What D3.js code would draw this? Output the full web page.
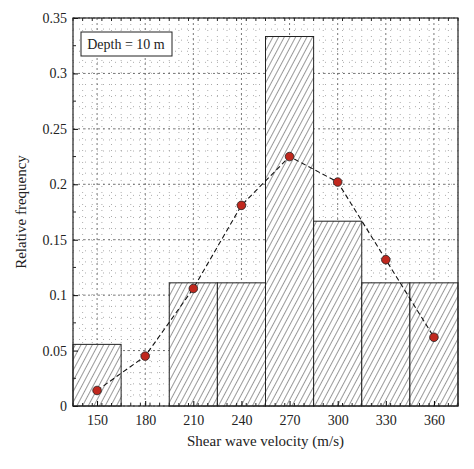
<!DOCTYPE html>
<meta charset="utf-8">
<style>
body { margin: 0; background: #fff; }
text { font-family: "Liberation Serif", serif; fill: #222; }
</style>
<body>
<script src="https://d3js.org/d3.v7.min.js"></script>
<script>
var velocities = [150, 180, 210, 240, 270, 300, 330, 360];
var barFreq = [0.0556, 0, 0.1111, 0.1111, 0.3333, 0.1667, 0.1111, 0.1111];
var curveFreq = [0.014, 0.045, 0.106, 0.181, 0.225, 0.202, 0.132, 0.062];
var yTicks = [0, 0.05, 0.1, 0.15, 0.2, 0.25, 0.3, 0.35];

var margin = {top: 18, right: 16, bottom: 63, left: 73},
    width = 474 - margin.left - margin.right,
    height = 469 - margin.top - margin.bottom;

var svg = d3.select("body").append("svg").attr("width", 474).attr("height", 469);

var defs = svg.append("defs");
var pat = defs.append("pattern").attr("id", "hatch").attr("patternUnits", "userSpaceOnUse")
    .attr("width", 5).attr("height", 5).attr("patternTransform", "rotate(28)");
pat.append("rect").attr("width", 5).attr("height", 5).attr("fill", "#fff");
pat.append("line").attr("x1", 0).attr("y1", 0).attr("x2", 0).attr("y2", 5)
    .attr("stroke", "#333").attr("stroke-width", 1);

var g = svg.append("g").attr("transform", "translate(" + margin.left + "," + margin.top + ")");

var x = d3.scaleLinear().domain([135, 375]).range([0, width]);
var y = d3.scaleLinear().domain([0, 0.35]).range([height, 0]);

// minor grid
var xMinor = d3.range(135, 375.1, 6), yMinor = d3.range(0, 0.3501, 0.01);
g.selectAll(".vx").data(xMinor).enter().append("line")
    .attr("x1", d => x(d)).attr("x2", d => x(d)).attr("y1", 0).attr("y2", height)
    .attr("stroke", "#888").attr("stroke-width", 0.7).attr("stroke-dasharray", "1,5");
g.selectAll(".hy").data(yMinor).enter().append("line")
    .attr("y1", d => y(d)).attr("y2", d => y(d)).attr("x1", 0).attr("x2", width)
    .attr("stroke", "#888").attr("stroke-width", 0.7).attr("stroke-dasharray", "1,5");
// major grid
g.selectAll(".mx").data(velocities).enter().append("line")
    .attr("x1", d => x(d)).attr("x2", d => x(d)).attr("y1", 0).attr("y2", height)
    .attr("stroke", "#555").attr("stroke-width", 0.8).attr("stroke-dasharray", "2,3");
g.selectAll(".my").data(yTicks).enter().append("line")
    .attr("y1", d => y(d)).attr("y2", d => y(d)).attr("x1", 0).attr("x2", width)
    .attr("stroke", "#555").attr("stroke-width", 0.8).attr("stroke-dasharray", "2,3");

// bars
g.selectAll(".bar").data(velocities.filter((d, i) => barFreq[i] > 0)).enter().append("rect")
    .attr("x", d => x(d - 15)).attr("width", x(165) - x(135))
    .attr("y", d => y(barFreq[velocities.indexOf(d)]))
    .attr("height", d => height - y(barFreq[velocities.indexOf(d)]))
    .attr("fill", "url(#hatch)").attr("stroke", "#222").attr("stroke-width", 1);

// curve
var line = d3.line().x((d, i) => x(velocities[i])).y(d => y(d));
g.append("path").datum(curveFreq).attr("d", line).attr("fill", "none")
    .attr("stroke", "#111").attr("stroke-width", 1.1).attr("stroke-dasharray", "5,3");
g.selectAll(".pt").data(curveFreq).enter().append("circle")
    .attr("cx", (d, i) => x(velocities[i])).attr("cy", d => y(d)).attr("r", 4.3)
    .attr("fill", "#c0281e").attr("stroke", "#222").attr("stroke-width", 0.8);

// axes
g.append("g").attr("transform", "translate(0," + height + ")")
    .call(d3.axisBottom(x).tickValues(velocities).tickSize(-5).tickPadding(9))
    .call(a => a.select(".domain").remove())
    .selectAll("text").style("font-size", "14px");
g.append("g").call(d3.axisLeft(y).tickValues(yTicks).tickSize(-5).tickPadding(6)
        .tickFormat(d => d === 0 ? "0" : d3.format("")(+d.toFixed(2))))
    .call(a => a.select(".domain").remove())
    .selectAll("text").style("font-size", "14px");
// minor ticks
g.selectAll(".tb").data(xMinor).enter().append("line")
    .attr("x1", d => x(d)).attr("x2", d => x(d)).attr("y1", 0).attr("y2", 3).attr("stroke", "#222");
g.selectAll(".tbb").data(xMinor).enter().append("line")
    .attr("x1", d => x(d)).attr("x2", d => x(d)).attr("y1", height).attr("y2", height - 3).attr("stroke", "#222");
g.selectAll(".tl").data(d3.range(0.025, 0.35, 0.05)).enter().append("line")
    .attr("y1", d => y(d)).attr("y2", d => y(d)).attr("x1", 0).attr("x2", 3).attr("stroke", "#222");
g.append("rect").attr("width", width).attr("height", height)
    .attr("fill", "none").attr("stroke", "#222").attr("stroke-width", 1.2);

// legend box
g.append("rect").attr("x", 8).attr("y", 14).attr("width", 91).attr("height", 24)
    .attr("fill", "#fff").attr("stroke", "#222").attr("stroke-width", 1);
g.append("text").attr("x", 53).attr("y", 31).attr("text-anchor", "middle")
    .style("font-size", "14px").text("Depth = 10 m");

// labels
svg.append("text").attr("x", margin.left + width / 2).attr("y", 446).attr("text-anchor", "middle")
    .style("font-size", "15px").text("Shear wave velocity (m/s)");
svg.append("text").attr("transform", "translate(26," + (margin.top + height / 2) + ") rotate(-90)")
    .attr("text-anchor", "middle").style("font-size", "15px").text("Relative frequency");
</script>
</body>
